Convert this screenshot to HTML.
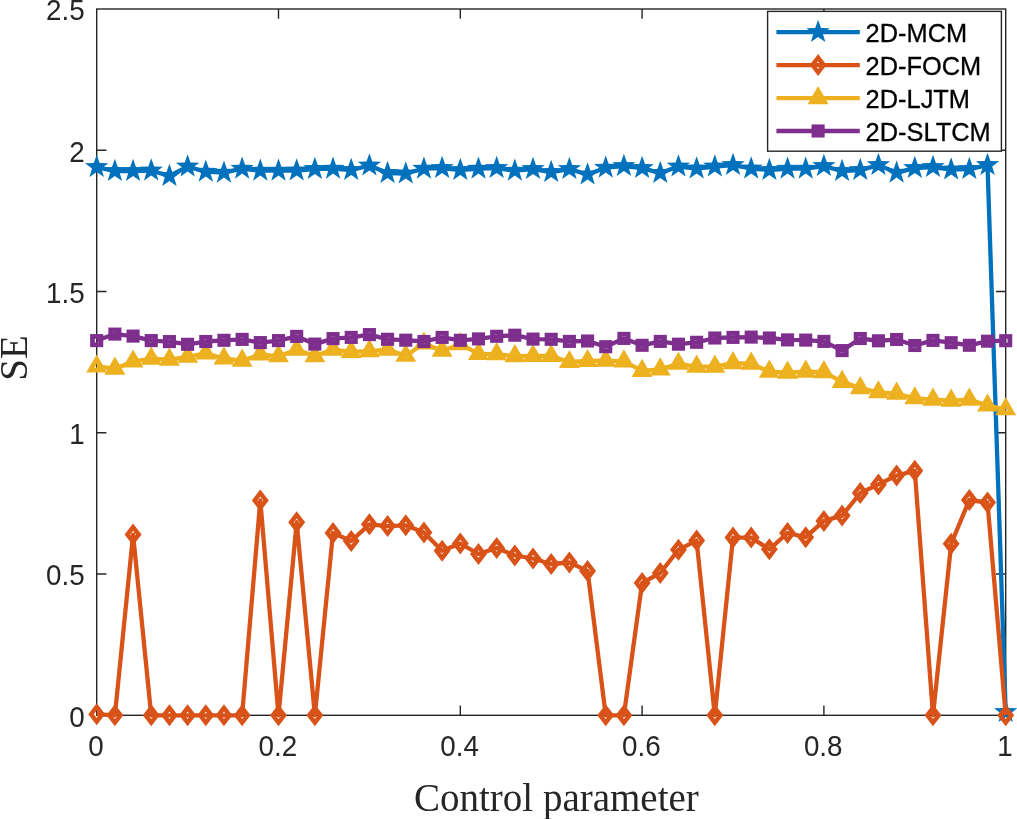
<!DOCTYPE html>
<html lang="en"><head><meta charset="utf-8"><title>SE vs Control parameter</title>
<style>html,body{margin:0;padding:0;background:#fff}body{width:1017px;height:819px;overflow:hidden}</style></head>
<body>
<svg width="1017" height="819" viewBox="0 0 1017 819" style="display:block">
<rect width="1017" height="819" fill="#fff"/>
<g stroke="#262626" stroke-width="1.4" fill="none" stroke-linecap="butt">
<rect x="96.7" y="9.0" width="909.0" height="706.3"/>
<path d="M278.5 715.3V705.5999999999999M278.5 9.0V18.7"/>
<path d="M460.3 715.3V705.5999999999999M460.3 9.0V18.7"/>
<path d="M642.1 715.3V705.5999999999999M642.1 9.0V18.7"/>
<path d="M823.9 715.3V705.5999999999999M823.9 9.0V18.7"/>
<path d="M96.7 574.0H106.4M1005.7 574.0H996.0"/>
<path d="M96.7 432.8H106.4M1005.7 432.8H996.0"/>
<path d="M96.7 291.5H106.4M1005.7 291.5H996.0"/>
<path d="M96.7 150.3H106.4M1005.7 150.3H996.0"/>
</g>
<g font-family="Liberation Sans, Arial, sans-serif" font-size="27.8" fill="#262626">
<text transform="translate(96.0,755.7) scale(1,1.09)" text-anchor="middle">0</text>
<text transform="translate(277.8,755.7) scale(1,1.09)" text-anchor="middle">0.2</text>
<text transform="translate(459.6,755.7) scale(1,1.09)" text-anchor="middle">0.4</text>
<text transform="translate(641.4,755.7) scale(1,1.09)" text-anchor="middle">0.6</text>
<text transform="translate(823.2,755.7) scale(1,1.09)" text-anchor="middle">0.8</text>
<text transform="translate(1005.0,755.7) scale(1,1.09)" text-anchor="middle">1</text>
<text transform="translate(84.6,726.7) scale(1,1.09)" text-anchor="end">0</text>
<text transform="translate(84.6,585.4) scale(1,1.09)" text-anchor="end">0.5</text>
<text transform="translate(84.6,444.2) scale(1,1.09)" text-anchor="end">1</text>
<text transform="translate(84.6,302.9) scale(1,1.09)" text-anchor="end">1.5</text>
<text transform="translate(84.6,161.7) scale(1,1.09)" text-anchor="end">2</text>
<text transform="translate(84.6,20.4) scale(1,1.09)" text-anchor="end">2.5</text>
</g>
<g font-family="Liberation Serif, Times New Roman, serif" font-size="39" fill="#262626">
<text x="556.4" y="811.4" text-anchor="middle">Control parameter</text>
<text transform="translate(27.3,358) rotate(-90)" text-anchor="middle">SE</text>
</g>
<g stroke="#0072BD" fill="none">
<polyline points="96.7,167.1 114.9,171.1 133.1,171.1 151.2,170.5 169.4,176.0 187.6,166.6 205.8,171.7 224.0,172.7 242.1,168.7 260.3,170.7 278.5,170.7 296.7,170.5 314.9,169.1 333.0,168.7 351.2,170.1 369.4,165.5 387.6,173.1 405.8,173.5 423.9,168.7 442.1,168.1 460.3,170.1 478.5,168.7 496.7,168.1 514.8,170.7 533.0,169.1 551.2,172.1 569.4,169.1 587.6,174.5 605.7,167.7 623.9,166.1 642.1,168.1 660.3,173.1 678.5,166.5 696.6,168.5 714.8,166.5 733.0,165.1 751.2,168.5 769.4,170.1 787.5,168.7 805.7,168.7 823.9,166.1 842.1,171.0 860.3,170.1 878.4,165.1 896.6,172.7 914.8,168.1 933.0,167.1 951.2,169.5 969.3,169.1 987.5,165.1 1005.7,712.0" stroke-width="4.3" stroke-linejoin="round"/>
<g stroke-width="4.7" stroke-linejoin="miter" stroke-miterlimit="10">
<polygon points="96.70,154.80 99.59,163.12 108.40,163.30 101.38,168.62 103.93,177.05 96.70,172.02 89.47,177.05 92.02,168.62 85.00,163.30 93.81,163.12" fill="#0072BD" stroke="none"/>
<polygon points="114.88,158.80 117.77,167.12 126.58,167.30 119.56,172.62 122.11,181.05 114.88,176.02 107.65,181.05 110.20,172.62 103.18,167.30 111.99,167.12" fill="#0072BD" stroke="none"/>
<polygon points="133.06,158.80 135.95,167.12 144.76,167.30 137.74,172.62 140.29,181.05 133.06,176.02 125.83,181.05 128.38,172.62 121.36,167.30 130.17,167.12" fill="#0072BD" stroke="none"/>
<polygon points="151.24,158.20 154.13,166.52 162.94,166.70 155.92,172.02 158.47,180.45 151.24,175.42 144.01,180.45 146.56,172.02 139.54,166.70 148.35,166.52" fill="#0072BD" stroke="none"/>
<polygon points="169.42,163.70 172.31,172.02 181.12,172.20 174.10,177.52 176.65,185.95 169.42,180.92 162.19,185.95 164.74,177.52 157.72,172.20 166.53,172.02" fill="#0072BD" stroke="none"/>
<polygon points="187.60,154.30 190.49,162.62 199.30,162.80 192.28,168.12 194.83,176.55 187.60,171.52 180.37,176.55 182.92,168.12 175.90,162.80 184.71,162.62" fill="#0072BD" stroke="none"/>
<polygon points="205.78,159.40 208.67,167.72 217.48,167.90 210.46,173.22 213.01,181.65 205.78,176.62 198.55,181.65 201.10,173.22 194.08,167.90 202.89,167.72" fill="#0072BD" stroke="none"/>
<polygon points="223.96,160.40 226.85,168.72 235.66,168.90 228.64,174.22 231.19,182.65 223.96,177.62 216.73,182.65 219.28,174.22 212.26,168.90 221.07,168.72" fill="#0072BD" stroke="none"/>
<polygon points="242.14,156.40 245.03,164.72 253.84,164.90 246.82,170.22 249.37,178.65 242.14,173.62 234.91,178.65 237.46,170.22 230.44,164.90 239.25,164.72" fill="#0072BD" stroke="none"/>
<polygon points="260.32,158.40 263.21,166.72 272.02,166.90 265.00,172.22 267.55,180.65 260.32,175.62 253.09,180.65 255.64,172.22 248.62,166.90 257.43,166.72" fill="#0072BD" stroke="none"/>
<polygon points="278.50,158.40 281.39,166.72 290.20,166.90 283.18,172.22 285.73,180.65 278.50,175.62 271.27,180.65 273.82,172.22 266.80,166.90 275.61,166.72" fill="#0072BD" stroke="none"/>
<polygon points="296.68,158.20 299.57,166.52 308.38,166.70 301.36,172.02 303.91,180.45 296.68,175.42 289.45,180.45 292.00,172.02 284.98,166.70 293.79,166.52" fill="#0072BD" stroke="none"/>
<polygon points="314.86,156.80 317.75,165.12 326.56,165.30 319.54,170.62 322.09,179.05 314.86,174.02 307.63,179.05 310.18,170.62 303.16,165.30 311.97,165.12" fill="#0072BD" stroke="none"/>
<polygon points="333.04,156.40 335.93,164.72 344.74,164.90 337.72,170.22 340.27,178.65 333.04,173.62 325.81,178.65 328.36,170.22 321.34,164.90 330.15,164.72" fill="#0072BD" stroke="none"/>
<polygon points="351.22,157.80 354.11,166.12 362.92,166.30 355.90,171.62 358.45,180.05 351.22,175.02 343.99,180.05 346.54,171.62 339.52,166.30 348.33,166.12" fill="#0072BD" stroke="none"/>
<polygon points="369.40,153.20 372.29,161.52 381.10,161.70 374.08,167.02 376.63,175.45 369.40,170.42 362.17,175.45 364.72,167.02 357.70,161.70 366.51,161.52" fill="#0072BD" stroke="none"/>
<polygon points="387.58,160.80 390.47,169.12 399.28,169.30 392.26,174.62 394.81,183.05 387.58,178.02 380.35,183.05 382.90,174.62 375.88,169.30 384.69,169.12" fill="#0072BD" stroke="none"/>
<polygon points="405.76,161.20 408.65,169.52 417.46,169.70 410.44,175.02 412.99,183.45 405.76,178.42 398.53,183.45 401.08,175.02 394.06,169.70 402.87,169.52" fill="#0072BD" stroke="none"/>
<polygon points="423.94,156.40 426.83,164.72 435.64,164.90 428.62,170.22 431.17,178.65 423.94,173.62 416.71,178.65 419.26,170.22 412.24,164.90 421.05,164.72" fill="#0072BD" stroke="none"/>
<polygon points="442.12,155.80 445.01,164.12 453.82,164.30 446.80,169.62 449.35,178.05 442.12,173.02 434.89,178.05 437.44,169.62 430.42,164.30 439.23,164.12" fill="#0072BD" stroke="none"/>
<polygon points="460.30,157.80 463.19,166.12 472.00,166.30 464.98,171.62 467.53,180.05 460.30,175.02 453.07,180.05 455.62,171.62 448.60,166.30 457.41,166.12" fill="#0072BD" stroke="none"/>
<polygon points="478.48,156.40 481.37,164.72 490.18,164.90 483.16,170.22 485.71,178.65 478.48,173.62 471.25,178.65 473.80,170.22 466.78,164.90 475.59,164.72" fill="#0072BD" stroke="none"/>
<polygon points="496.66,155.80 499.55,164.12 508.36,164.30 501.34,169.62 503.89,178.05 496.66,173.02 489.43,178.05 491.98,169.62 484.96,164.30 493.77,164.12" fill="#0072BD" stroke="none"/>
<polygon points="514.84,158.40 517.73,166.72 526.54,166.90 519.52,172.22 522.07,180.65 514.84,175.62 507.61,180.65 510.16,172.22 503.14,166.90 511.95,166.72" fill="#0072BD" stroke="none"/>
<polygon points="533.02,156.80 535.91,165.12 544.72,165.30 537.70,170.62 540.25,179.05 533.02,174.02 525.79,179.05 528.34,170.62 521.32,165.30 530.13,165.12" fill="#0072BD" stroke="none"/>
<polygon points="551.20,159.80 554.09,168.12 562.90,168.30 555.88,173.62 558.43,182.05 551.20,177.02 543.97,182.05 546.52,173.62 539.50,168.30 548.31,168.12" fill="#0072BD" stroke="none"/>
<polygon points="569.38,156.80 572.27,165.12 581.08,165.30 574.06,170.62 576.61,179.05 569.38,174.02 562.15,179.05 564.70,170.62 557.68,165.30 566.49,165.12" fill="#0072BD" stroke="none"/>
<polygon points="587.56,162.20 590.45,170.52 599.26,170.70 592.24,176.02 594.79,184.45 587.56,179.42 580.33,184.45 582.88,176.02 575.86,170.70 584.67,170.52" fill="#0072BD" stroke="none"/>
<polygon points="605.74,155.40 608.63,163.72 617.44,163.90 610.42,169.22 612.97,177.65 605.74,172.62 598.51,177.65 601.06,169.22 594.04,163.90 602.85,163.72" fill="#0072BD" stroke="none"/>
<polygon points="623.92,153.80 626.81,162.12 635.62,162.30 628.60,167.62 631.15,176.05 623.92,171.02 616.69,176.05 619.24,167.62 612.22,162.30 621.03,162.12" fill="#0072BD" stroke="none"/>
<polygon points="642.10,155.80 644.99,164.12 653.80,164.30 646.78,169.62 649.33,178.05 642.10,173.02 634.87,178.05 637.42,169.62 630.40,164.30 639.21,164.12" fill="#0072BD" stroke="none"/>
<polygon points="660.28,160.80 663.17,169.12 671.98,169.30 664.96,174.62 667.51,183.05 660.28,178.02 653.05,183.05 655.60,174.62 648.58,169.30 657.39,169.12" fill="#0072BD" stroke="none"/>
<polygon points="678.46,154.20 681.35,162.52 690.16,162.70 683.14,168.02 685.69,176.45 678.46,171.42 671.23,176.45 673.78,168.02 666.76,162.70 675.57,162.52" fill="#0072BD" stroke="none"/>
<polygon points="696.64,156.20 699.53,164.52 708.34,164.70 701.32,170.02 703.87,178.45 696.64,173.42 689.41,178.45 691.96,170.02 684.94,164.70 693.75,164.52" fill="#0072BD" stroke="none"/>
<polygon points="714.82,154.20 717.71,162.52 726.52,162.70 719.50,168.02 722.05,176.45 714.82,171.42 707.59,176.45 710.14,168.02 703.12,162.70 711.93,162.52" fill="#0072BD" stroke="none"/>
<polygon points="733.00,152.80 735.89,161.12 744.70,161.30 737.68,166.62 740.23,175.05 733.00,170.02 725.77,175.05 728.32,166.62 721.30,161.30 730.11,161.12" fill="#0072BD" stroke="none"/>
<polygon points="751.18,156.20 754.07,164.52 762.88,164.70 755.86,170.02 758.41,178.45 751.18,173.42 743.95,178.45 746.50,170.02 739.48,164.70 748.29,164.52" fill="#0072BD" stroke="none"/>
<polygon points="769.36,157.80 772.25,166.12 781.06,166.30 774.04,171.62 776.59,180.05 769.36,175.02 762.13,180.05 764.68,171.62 757.66,166.30 766.47,166.12" fill="#0072BD" stroke="none"/>
<polygon points="787.54,156.40 790.43,164.72 799.24,164.90 792.22,170.22 794.77,178.65 787.54,173.62 780.31,178.65 782.86,170.22 775.84,164.90 784.65,164.72" fill="#0072BD" stroke="none"/>
<polygon points="805.72,156.40 808.61,164.72 817.42,164.90 810.40,170.22 812.95,178.65 805.72,173.62 798.49,178.65 801.04,170.22 794.02,164.90 802.83,164.72" fill="#0072BD" stroke="none"/>
<polygon points="823.90,153.80 826.79,162.12 835.60,162.30 828.58,167.62 831.13,176.05 823.90,171.02 816.67,176.05 819.22,167.62 812.20,162.30 821.01,162.12" fill="#0072BD" stroke="none"/>
<polygon points="842.08,158.70 844.97,167.02 853.78,167.20 846.76,172.52 849.31,180.95 842.08,175.92 834.85,180.95 837.40,172.52 830.38,167.20 839.19,167.02" fill="#0072BD" stroke="none"/>
<polygon points="860.26,157.80 863.15,166.12 871.96,166.30 864.94,171.62 867.49,180.05 860.26,175.02 853.03,180.05 855.58,171.62 848.56,166.30 857.37,166.12" fill="#0072BD" stroke="none"/>
<polygon points="878.44,152.80 881.33,161.12 890.14,161.30 883.12,166.62 885.67,175.05 878.44,170.02 871.21,175.05 873.76,166.62 866.74,161.30 875.55,161.12" fill="#0072BD" stroke="none"/>
<polygon points="896.62,160.40 899.51,168.72 908.32,168.90 901.30,174.22 903.85,182.65 896.62,177.62 889.39,182.65 891.94,174.22 884.92,168.90 893.73,168.72" fill="#0072BD" stroke="none"/>
<polygon points="914.80,155.80 917.69,164.12 926.50,164.30 919.48,169.62 922.03,178.05 914.80,173.02 907.57,178.05 910.12,169.62 903.10,164.30 911.91,164.12" fill="#0072BD" stroke="none"/>
<polygon points="932.98,154.80 935.87,163.12 944.68,163.30 937.66,168.62 940.21,177.05 932.98,172.02 925.75,177.05 928.30,168.62 921.28,163.30 930.09,163.12" fill="#0072BD" stroke="none"/>
<polygon points="951.16,157.20 954.05,165.52 962.86,165.70 955.84,171.02 958.39,179.45 951.16,174.42 943.93,179.45 946.48,171.02 939.46,165.70 948.27,165.52" fill="#0072BD" stroke="none"/>
<polygon points="969.34,156.80 972.23,165.12 981.04,165.30 974.02,170.62 976.57,179.05 969.34,174.02 962.11,179.05 964.66,170.62 957.64,165.30 966.45,165.12" fill="#0072BD" stroke="none"/>
<polygon points="987.52,152.80 990.41,161.12 999.22,161.30 992.20,166.62 994.75,175.05 987.52,170.02 980.29,175.05 982.84,166.62 975.82,161.30 984.63,161.12" fill="#0072BD" stroke="none"/>
<polygon points="1005.70,699.70 1008.59,708.02 1017.40,708.20 1010.38,713.52 1012.93,721.95 1005.70,716.92 998.47,721.95 1001.02,713.52 994.00,708.20 1002.81,708.02" fill="#0072BD" stroke="none"/>
</g></g>
<g stroke="#D95319" fill="none">
<polyline points="96.7,714.2 114.9,715.3 133.1,534.6 151.2,715.3 169.4,715.3 187.6,715.3 205.8,715.3 224.0,715.3 242.1,715.3 260.3,500.4 278.5,715.3 296.7,522.2 314.9,715.3 333.0,532.9 351.2,541.0 369.4,524.3 387.6,526.1 405.8,525.3 423.9,532.5 442.1,550.7 460.3,543.5 478.5,554.0 496.7,548.0 514.8,555.5 533.0,558.5 551.2,564.0 569.4,562.5 587.6,570.9 605.7,715.3 623.9,715.3 642.1,582.9 660.3,573.0 678.5,549.7 696.6,540.6 714.8,715.3 733.0,537.6 751.2,537.6 769.4,549.3 787.5,533.0 805.7,537.2 823.9,520.9 842.1,515.6 860.3,493.0 878.4,484.4 896.6,475.5 914.8,470.8 933.0,715.3 951.2,543.8 969.3,500.0 987.5,502.5 1005.7,715.3" stroke-width="4.3" stroke-linejoin="round"/>
<g stroke-width="4.7" stroke-linejoin="miter" stroke-miterlimit="10">
<polygon stroke-width="4.4" points="96.70,706.80 102.40,714.20 96.70,721.60 91.00,714.20"/>
<polygon stroke-width="4.4" points="114.88,707.90 120.58,715.30 114.88,722.70 109.18,715.30"/>
<polygon stroke-width="4.4" points="133.06,527.20 138.76,534.60 133.06,542.00 127.36,534.60"/>
<polygon stroke-width="4.4" points="151.24,707.90 156.94,715.30 151.24,722.70 145.54,715.30"/>
<polygon stroke-width="4.4" points="169.42,707.90 175.12,715.30 169.42,722.70 163.72,715.30"/>
<polygon stroke-width="4.4" points="187.60,707.90 193.30,715.30 187.60,722.70 181.90,715.30"/>
<polygon stroke-width="4.4" points="205.78,707.90 211.48,715.30 205.78,722.70 200.08,715.30"/>
<polygon stroke-width="4.4" points="223.96,707.90 229.66,715.30 223.96,722.70 218.26,715.30"/>
<polygon stroke-width="4.4" points="242.14,707.90 247.84,715.30 242.14,722.70 236.44,715.30"/>
<polygon stroke-width="4.4" points="260.32,493.00 266.02,500.40 260.32,507.80 254.62,500.40"/>
<polygon stroke-width="4.4" points="278.50,707.90 284.20,715.30 278.50,722.70 272.80,715.30"/>
<polygon stroke-width="4.4" points="296.68,514.80 302.38,522.20 296.68,529.60 290.98,522.20"/>
<polygon stroke-width="4.4" points="314.86,707.90 320.56,715.30 314.86,722.70 309.16,715.30"/>
<polygon stroke-width="4.4" points="333.04,525.50 338.74,532.90 333.04,540.30 327.34,532.90"/>
<polygon stroke-width="4.4" points="351.22,533.60 356.92,541.00 351.22,548.40 345.52,541.00"/>
<polygon stroke-width="4.4" points="369.40,516.90 375.10,524.30 369.40,531.70 363.70,524.30"/>
<polygon stroke-width="4.4" points="387.58,518.70 393.28,526.10 387.58,533.50 381.88,526.10"/>
<polygon stroke-width="4.4" points="405.76,517.90 411.46,525.30 405.76,532.70 400.06,525.30"/>
<polygon stroke-width="4.4" points="423.94,525.10 429.64,532.50 423.94,539.90 418.24,532.50"/>
<polygon stroke-width="4.4" points="442.12,543.30 447.82,550.70 442.12,558.10 436.42,550.70"/>
<polygon stroke-width="4.4" points="460.30,536.10 466.00,543.50 460.30,550.90 454.60,543.50"/>
<polygon stroke-width="4.4" points="478.48,546.60 484.18,554.00 478.48,561.40 472.78,554.00"/>
<polygon stroke-width="4.4" points="496.66,540.60 502.36,548.00 496.66,555.40 490.96,548.00"/>
<polygon stroke-width="4.4" points="514.84,548.10 520.54,555.50 514.84,562.90 509.14,555.50"/>
<polygon stroke-width="4.4" points="533.02,551.10 538.72,558.50 533.02,565.90 527.32,558.50"/>
<polygon stroke-width="4.4" points="551.20,556.60 556.90,564.00 551.20,571.40 545.50,564.00"/>
<polygon stroke-width="4.4" points="569.38,555.10 575.08,562.50 569.38,569.90 563.68,562.50"/>
<polygon stroke-width="4.4" points="587.56,563.50 593.26,570.90 587.56,578.30 581.86,570.90"/>
<polygon stroke-width="4.4" points="605.74,707.90 611.44,715.30 605.74,722.70 600.04,715.30"/>
<polygon stroke-width="4.4" points="623.92,707.90 629.62,715.30 623.92,722.70 618.22,715.30"/>
<polygon stroke-width="4.4" points="642.10,575.50 647.80,582.90 642.10,590.30 636.40,582.90"/>
<polygon stroke-width="4.4" points="660.28,565.60 665.98,573.00 660.28,580.40 654.58,573.00"/>
<polygon stroke-width="4.4" points="678.46,542.30 684.16,549.70 678.46,557.10 672.76,549.70"/>
<polygon stroke-width="4.4" points="696.64,533.20 702.34,540.60 696.64,548.00 690.94,540.60"/>
<polygon stroke-width="4.4" points="714.82,707.90 720.52,715.30 714.82,722.70 709.12,715.30"/>
<polygon stroke-width="4.4" points="733.00,530.20 738.70,537.60 733.00,545.00 727.30,537.60"/>
<polygon stroke-width="4.4" points="751.18,530.20 756.88,537.60 751.18,545.00 745.48,537.60"/>
<polygon stroke-width="4.4" points="769.36,541.90 775.06,549.30 769.36,556.70 763.66,549.30"/>
<polygon stroke-width="4.4" points="787.54,525.60 793.24,533.00 787.54,540.40 781.84,533.00"/>
<polygon stroke-width="4.4" points="805.72,529.80 811.42,537.20 805.72,544.60 800.02,537.20"/>
<polygon stroke-width="4.4" points="823.90,513.50 829.60,520.90 823.90,528.30 818.20,520.90"/>
<polygon stroke-width="4.4" points="842.08,508.20 847.78,515.60 842.08,523.00 836.38,515.60"/>
<polygon stroke-width="4.4" points="860.26,485.60 865.96,493.00 860.26,500.40 854.56,493.00"/>
<polygon stroke-width="4.4" points="878.44,477.00 884.14,484.40 878.44,491.80 872.74,484.40"/>
<polygon stroke-width="4.4" points="896.62,468.10 902.32,475.50 896.62,482.90 890.92,475.50"/>
<polygon stroke-width="4.4" points="914.80,463.40 920.50,470.80 914.80,478.20 909.10,470.80"/>
<polygon stroke-width="4.4" points="932.98,707.90 938.68,715.30 932.98,722.70 927.28,715.30"/>
<polygon stroke-width="4.4" points="951.16,536.40 956.86,543.80 951.16,551.20 945.46,543.80"/>
<polygon stroke-width="4.4" points="969.34,492.60 975.04,500.00 969.34,507.40 963.64,500.00"/>
<polygon stroke-width="4.4" points="987.52,495.10 993.22,502.50 987.52,509.90 981.82,502.50"/>
<polygon stroke-width="4.4" points="1005.70,707.90 1011.40,715.30 1005.70,722.70 1000.00,715.30"/>
</g></g>
<g stroke="#EDB120" fill="none">
<polyline points="96.7,366.5 114.9,368.7 133.1,361.5 151.2,358.6 169.4,359.7 187.6,356.8 205.8,353.4 224.0,358.5 242.1,360.7 260.3,354.5 278.5,356.3 296.7,349.8 314.9,356.1 333.0,349.6 351.2,351.9 369.4,351.2 387.6,349.6 405.8,355.8 423.9,343.5 442.1,350.7 460.3,344.2 478.5,353.9 496.7,354.2 514.8,356.2 533.0,356.0 551.2,356.0 569.4,362.0 587.6,361.0 605.7,360.6 623.9,361.4 642.1,370.9 660.3,369.4 678.5,363.8 696.6,366.6 714.8,366.6 733.0,363.1 751.2,363.6 769.4,371.7 787.5,372.6 805.7,371.7 823.9,372.1 842.1,381.9 860.3,388.1 878.4,392.3 896.6,393.6 914.8,398.3 933.0,399.6 951.2,400.6 969.3,399.6 987.5,405.5 1005.7,409.3" stroke-width="4.3" stroke-linejoin="round"/>
<g stroke-width="4.7" stroke-linejoin="miter" stroke-miterlimit="10">
<polygon points="96.70,359.10 103.11,370.20 90.29,370.20"/>
<polygon points="114.88,361.30 121.29,372.40 108.47,372.40"/>
<polygon points="133.06,354.10 139.47,365.20 126.65,365.20"/>
<polygon points="151.24,351.20 157.65,362.30 144.83,362.30"/>
<polygon points="169.42,352.30 175.83,363.40 163.01,363.40"/>
<polygon points="187.60,349.40 194.01,360.50 181.19,360.50"/>
<polygon points="205.78,346.00 212.19,357.10 199.37,357.10"/>
<polygon points="223.96,351.10 230.37,362.20 217.55,362.20"/>
<polygon points="242.14,353.30 248.55,364.40 235.73,364.40"/>
<polygon points="260.32,347.10 266.73,358.20 253.91,358.20"/>
<polygon points="278.50,348.90 284.91,360.00 272.09,360.00"/>
<polygon points="296.68,342.40 303.09,353.50 290.27,353.50"/>
<polygon points="314.86,348.70 321.27,359.80 308.45,359.80"/>
<polygon points="333.04,342.20 339.45,353.30 326.63,353.30"/>
<polygon points="351.22,344.50 357.63,355.60 344.81,355.60"/>
<polygon points="369.40,343.80 375.81,354.90 362.99,354.90"/>
<polygon points="387.58,342.20 393.99,353.30 381.17,353.30"/>
<polygon points="405.76,348.40 412.17,359.50 399.35,359.50"/>
<polygon points="423.94,336.10 430.35,347.20 417.53,347.20"/>
<polygon points="442.12,343.30 448.53,354.40 435.71,354.40"/>
<polygon points="460.30,336.80 466.71,347.90 453.89,347.90"/>
<polygon points="478.48,346.50 484.89,357.60 472.07,357.60"/>
<polygon points="496.66,346.80 503.07,357.90 490.25,357.90"/>
<polygon points="514.84,348.80 521.25,359.90 508.43,359.90"/>
<polygon points="533.02,348.60 539.43,359.70 526.61,359.70"/>
<polygon points="551.20,348.60 557.61,359.70 544.79,359.70"/>
<polygon points="569.38,354.60 575.79,365.70 562.97,365.70"/>
<polygon points="587.56,353.60 593.97,364.70 581.15,364.70"/>
<polygon points="605.74,353.20 612.15,364.30 599.33,364.30"/>
<polygon points="623.92,354.00 630.33,365.10 617.51,365.10"/>
<polygon points="642.10,363.50 648.51,374.60 635.69,374.60"/>
<polygon points="660.28,362.00 666.69,373.10 653.87,373.10"/>
<polygon points="678.46,356.40 684.87,367.50 672.05,367.50"/>
<polygon points="696.64,359.20 703.05,370.30 690.23,370.30"/>
<polygon points="714.82,359.20 721.23,370.30 708.41,370.30"/>
<polygon points="733.00,355.70 739.41,366.80 726.59,366.80"/>
<polygon points="751.18,356.20 757.59,367.30 744.77,367.30"/>
<polygon points="769.36,364.30 775.77,375.40 762.95,375.40"/>
<polygon points="787.54,365.20 793.95,376.30 781.13,376.30"/>
<polygon points="805.72,364.30 812.13,375.40 799.31,375.40"/>
<polygon points="823.90,364.70 830.31,375.80 817.49,375.80"/>
<polygon points="842.08,374.50 848.49,385.60 835.67,385.60"/>
<polygon points="860.26,380.70 866.67,391.80 853.85,391.80"/>
<polygon points="878.44,384.90 884.85,396.00 872.03,396.00"/>
<polygon points="896.62,386.20 903.03,397.30 890.21,397.30"/>
<polygon points="914.80,390.90 921.21,402.00 908.39,402.00"/>
<polygon points="932.98,392.20 939.39,403.30 926.57,403.30"/>
<polygon points="951.16,393.20 957.57,404.30 944.75,404.30"/>
<polygon points="969.34,392.20 975.75,403.30 962.93,403.30"/>
<polygon points="987.52,398.10 993.93,409.20 981.11,409.20"/>
<polygon points="1005.70,401.90 1012.11,413.00 999.29,413.00"/>
</g></g>
<g stroke="#7E2F8E" fill="none">
<polyline points="96.7,340.6 114.9,334.1 133.1,336.1 151.2,340.6 169.4,341.6 187.6,344.3 205.8,341.5 224.0,340.3 242.1,339.4 260.3,342.6 278.5,340.6 296.7,336.4 314.9,344.1 333.0,338.6 351.2,337.4 369.4,334.6 387.6,339.3 405.8,340.2 423.9,341.5 442.1,337.4 460.3,340.3 478.5,338.9 496.7,336.3 514.8,335.2 533.0,339.1 551.2,339.3 569.4,341.4 587.6,341.0 605.7,346.7 623.9,338.4 642.1,345.3 660.3,341.4 678.5,344.2 696.6,342.3 714.8,338.0 733.0,337.4 751.2,337.1 769.4,338.0 787.5,339.9 805.7,340.1 823.9,341.4 842.1,350.6 860.3,338.5 878.4,340.8 896.6,339.5 914.8,345.5 933.0,340.4 951.2,342.7 969.3,345.3 987.5,341.2 1005.7,340.7" stroke-width="4.3" stroke-linejoin="round"/>
<g stroke-width="4.7" stroke-linejoin="miter" stroke-miterlimit="10">
<rect x="92.50" y="336.40" width="8.4" height="8.4"/>
<rect x="110.68" y="329.90" width="8.4" height="8.4"/>
<rect x="128.86" y="331.90" width="8.4" height="8.4"/>
<rect x="147.04" y="336.40" width="8.4" height="8.4"/>
<rect x="165.22" y="337.40" width="8.4" height="8.4"/>
<rect x="183.40" y="340.10" width="8.4" height="8.4"/>
<rect x="201.58" y="337.30" width="8.4" height="8.4"/>
<rect x="219.76" y="336.10" width="8.4" height="8.4"/>
<rect x="237.94" y="335.20" width="8.4" height="8.4"/>
<rect x="256.12" y="338.40" width="8.4" height="8.4"/>
<rect x="274.30" y="336.40" width="8.4" height="8.4"/>
<rect x="292.48" y="332.20" width="8.4" height="8.4"/>
<rect x="310.66" y="339.90" width="8.4" height="8.4"/>
<rect x="328.84" y="334.40" width="8.4" height="8.4"/>
<rect x="347.02" y="333.20" width="8.4" height="8.4"/>
<rect x="365.20" y="330.40" width="8.4" height="8.4"/>
<rect x="383.38" y="335.10" width="8.4" height="8.4"/>
<rect x="401.56" y="336.00" width="8.4" height="8.4"/>
<rect x="419.74" y="337.30" width="8.4" height="8.4"/>
<rect x="437.92" y="333.20" width="8.4" height="8.4"/>
<rect x="456.10" y="336.10" width="8.4" height="8.4"/>
<rect x="474.28" y="334.70" width="8.4" height="8.4"/>
<rect x="492.46" y="332.10" width="8.4" height="8.4"/>
<rect x="510.64" y="331.00" width="8.4" height="8.4"/>
<rect x="528.82" y="334.90" width="8.4" height="8.4"/>
<rect x="547.00" y="335.10" width="8.4" height="8.4"/>
<rect x="565.18" y="337.20" width="8.4" height="8.4"/>
<rect x="583.36" y="336.80" width="8.4" height="8.4"/>
<rect x="601.54" y="342.50" width="8.4" height="8.4"/>
<rect x="619.72" y="334.20" width="8.4" height="8.4"/>
<rect x="637.90" y="341.10" width="8.4" height="8.4"/>
<rect x="656.08" y="337.20" width="8.4" height="8.4"/>
<rect x="674.26" y="340.00" width="8.4" height="8.4"/>
<rect x="692.44" y="338.10" width="8.4" height="8.4"/>
<rect x="710.62" y="333.80" width="8.4" height="8.4"/>
<rect x="728.80" y="333.20" width="8.4" height="8.4"/>
<rect x="746.98" y="332.90" width="8.4" height="8.4"/>
<rect x="765.16" y="333.80" width="8.4" height="8.4"/>
<rect x="783.34" y="335.70" width="8.4" height="8.4"/>
<rect x="801.52" y="335.90" width="8.4" height="8.4"/>
<rect x="819.70" y="337.20" width="8.4" height="8.4"/>
<rect x="837.88" y="346.40" width="8.4" height="8.4"/>
<rect x="856.06" y="334.30" width="8.4" height="8.4"/>
<rect x="874.24" y="336.60" width="8.4" height="8.4"/>
<rect x="892.42" y="335.30" width="8.4" height="8.4"/>
<rect x="910.60" y="341.30" width="8.4" height="8.4"/>
<rect x="928.78" y="336.20" width="8.4" height="8.4"/>
<rect x="946.96" y="338.50" width="8.4" height="8.4"/>
<rect x="965.14" y="341.10" width="8.4" height="8.4"/>
<rect x="983.32" y="337.00" width="8.4" height="8.4"/>
<rect x="1001.50" y="336.50" width="8.4" height="8.4"/>
</g></g>
<rect x="767.6" y="11.4" width="233.8" height="139.8" fill="#fff" stroke="#262626" stroke-width="1.4"/>
<g stroke="#0072BD" fill="none" stroke-miterlimit="10">
<path d="M776.4 32.1H859.8" stroke-width="4.3"/>
<g stroke-width="4.7"><polygon points="818.10,19.80 820.99,28.12 829.80,28.30 822.78,33.62 825.33,42.05 818.10,37.02 810.87,42.05 813.42,33.62 806.40,28.30 815.21,28.12" fill="#0072BD" stroke="none"/></g>
</g>
<text x="865.6" y="41.9" font-family="Liberation Sans, Arial, sans-serif" font-size="25.4" fill="#000" stroke="#000" stroke-width="0.3">2D-MCM</text>
<g stroke="#D95319" fill="none" stroke-miterlimit="10">
<path d="M776.4 65.1H859.8" stroke-width="4.3"/>
<g stroke-width="4.7"><polygon stroke-width="4.4" points="818.10,57.70 823.80,65.10 818.10,72.50 812.40,65.10"/></g>
</g>
<text x="865.6" y="74.9" font-family="Liberation Sans, Arial, sans-serif" font-size="25.4" fill="#000" stroke="#000" stroke-width="0.3">2D-FOCM</text>
<g stroke="#EDB120" fill="none" stroke-miterlimit="10">
<path d="M776.4 98.1H859.8" stroke-width="4.3"/>
<g stroke-width="4.7"><polygon points="818.10,90.70 824.51,101.80 811.69,101.80"/></g>
</g>
<text x="865.6" y="107.9" font-family="Liberation Sans, Arial, sans-serif" font-size="25.4" fill="#000" stroke="#000" stroke-width="0.3">2D-LJTM</text>
<g stroke="#7E2F8E" fill="none" stroke-miterlimit="10">
<path d="M776.4 131.0H859.8" stroke-width="4.3"/>
<g stroke-width="4.7"><rect x="813.90" y="126.80" width="8.4" height="8.4"/></g>
</g>
<text x="865.6" y="140.8" font-family="Liberation Sans, Arial, sans-serif" font-size="25.4" fill="#000" stroke="#000" stroke-width="0.3">2D-SLTCM</text>
</svg>
</body></html>
